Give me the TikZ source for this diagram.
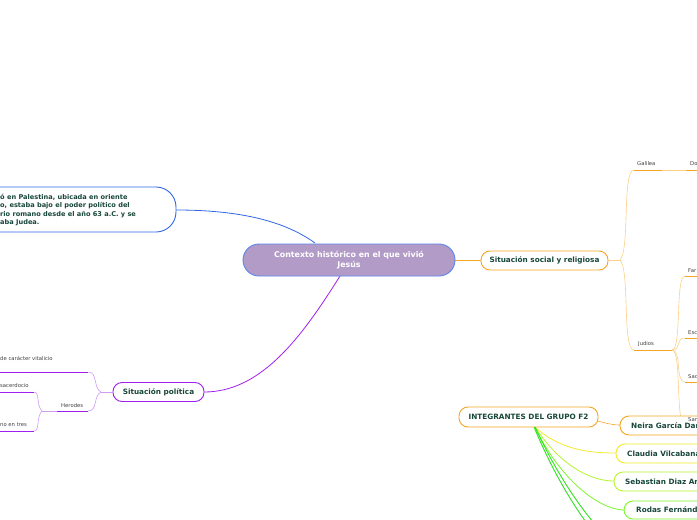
\documentclass[tikz,border=0pt]{standalone}
\usepackage{fontspec}
\setmainfont{DejaVu Sans}
\definecolor{txt}{HTML}{17473A}
\definecolor{blu}{HTML}{2F66E8}
\definecolor{ctr}{HTML}{B39BC8}
\definecolor{org}{HTML}{F5A623}
\definecolor{lorg}{HTML}{FBD08A}
\definecolor{pur}{HTML}{A020F0}
\definecolor{lpur}{HTML}{D09AF5}
\definecolor{yel}{HTML}{F2EA2A}
\definecolor{ygr}{HTML}{B5F52A}
\definecolor{grn}{HTML}{7CF52A}
\definecolor{dgr}{HTML}{30E020}
\begin{document}
\begin{tikzpicture}[x=1pt,y=-1pt,
  box/.style={draw,line width=0.9pt,rounded corners=9pt,fill=white,inner sep=0pt,font=\bfseries\fontsize{7.3}{8}\selectfont,text=txt},
  mem/.style={anchor=west,inner sep=0pt,font=\bfseries\fontsize{7.3}{8}\selectfont,text=txt},
  small/.style={font=\fontsize{5.3}{6}\selectfont,text=black!75,inner sep=0pt,anchor=south west}]
\useasboundingbox (0,0) rectangle (697,520);
\clip (0,0) rectangle (697,520);
% connectors
\coordinate (tl) at (176,210);
\draw[blu,line width=0.8pt] (tl) .. controls (250,210) and (290,225) .. (315,243);
\draw[pur,line width=0.8pt] (340,276) .. controls (300,340) and (260,392) .. (204,392);
\draw[org,line width=0.6pt] (455,260) -- (481,260);
% top-left box
\draw[blu,line width=0.9pt,fill=white,rounded corners=20pt] (-30,187) rectangle (176,232);
\node[anchor=west,align=left,font=\bfseries\fontsize{6.6}{8.6}\selectfont,text=txt,inner sep=0pt] (tlt) at (0,210)
 {ó en Palestina, ubicada en oriente\\o, estaba bajo el poder político del\\rio romano desde el año 63 a.C. y se\\aba Judea.};
% center
\node[draw=blu!80,line width=0.9pt,fill=ctr,rounded corners=16pt,minimum width=212pt,minimum height=32pt,align=center,text=white,font=\bfseries\fontsize{7.9}{9.5}\selectfont] (c) at (349,260) {Contexto histórico en el que vivió\\Jesús};
% social
\node[box,draw=org,minimum width=127pt,minimum height=19pt] (soc) at (544.5,260.5) {Situación social y religiosa};
\draw[lorg,line width=0.6pt] (608,260) -- (620,260);
\draw[lorg,line width=0.6pt] (620,260) .. controls (630,250) and (622,170) .. (634,170);
\draw[lorg,line width=0.6pt] (620,260) .. controls (630,270) and (622,350) .. (634,350);
\draw[org,line width=1pt] (634,170) -- (662,170);
\draw[lorg,line width=1pt] (662,170) -- (686,170);
\draw[org,line width=1pt] (686,170) -- (697,170);
\node[small] (gal) at (637,166) {Galilea};
\node[small] (do) at (690,166) {Do};
\draw[org,line width=1pt] (634,350) -- (672,350);
\node[small] (jud) at (638,347) {Judios};
\foreach \y/\t in {276/Far,338/Esc,382/Sac}{
  \draw[lorg,line width=0.6pt] (672,350) .. controls (682,350) and (675,\y) .. (685,\y);
  \draw[org,line width=1pt] (685,\y) -- (697,\y);
  \node[small] at (688,\y-3) {\t};
}
\draw[lorg,line width=0.6pt] (672,350) .. controls (682,350) and (675,425) .. (685,425);
% integrantes
\node[box,draw=org,minimum width=139pt,minimum height=20pt] (int) at (528.5,417) {INTEGRANTES DEL GRUPO F2};
\draw[org,line width=0.6pt] (598,421) .. controls (605,423) and (612,425) .. (620,425);
\draw[yel,line width=0.8pt] (535,427) .. controls (560,450) and (590,453) .. (616,453);
\draw[ygr,line width=0.8pt] (535,427) .. controls (560,465) and (590,481) .. (614,481);
\draw[grn,line width=0.8pt] (535,427) .. controls (560,480) and (600,510) .. (624,510);
\draw[dgr,line width=0.9pt] (535,427) .. controls (555,470) and (575,500) .. (593,522);
\draw[dgr,line width=0.9pt] (534,427) .. controls (552,470) and (570,500) .. (588,525);
\draw[org,line width=0.9pt,fill=white,rounded corners=9pt] (620,416) rectangle (740,435);
\node[mem] (n1) at (631,425.5) {Neira García Dan};
\node[small] (san) at (688,422) {San};
\draw[yel,line width=0.9pt,fill=white,rounded corners=9pt] (616,444) rectangle (740,463);
\node[mem] (n2) at (627,453.5) {Claudia Vilcabana};
\draw[ygr,line width=0.9pt,fill=white,rounded corners=9pt] (614,472) rectangle (740,491);
\node[mem] (n3) at (625,481.5) {Sebastian Diaz Arr};
\draw[grn,line width=0.9pt,fill=white,rounded corners=9pt] (624,501) rectangle (740,519);
\node[mem] (n4) at (636,510) {Rodas Fernánde};
% politica
\node[box,draw=pur,minimum width=91pt,minimum height=19pt] (pol) at (158.5,392) {Situación política};
\draw[lpur,line width=0.6pt] (113,392) -- (101,392);
\draw[lpur,line width=0.6pt] (101,392) .. controls (93,388) and (98,372) .. (88,372);
\draw[lpur,line width=0.6pt] (101,392) .. controls (93,396) and (98,411) .. (88,411);
\draw[pur,line width=1pt] (0,372) -- (88,372);
\node[small] (v) at (0,361) {de carácter vitalicio};
\draw[pur,line width=1pt] (57,411) -- (88,411);
\draw[lpur,line width=1pt] (42,411) -- (57,411);
\node[small] (h) at (61,408) {Herodes};
\draw[lpur,line width=0.6pt] (42,411) .. controls (36,405) and (40,392) .. (34,392);
\draw[lpur,line width=0.6pt] (42,411) .. controls (36,417) and (40,431) .. (34,431);
\draw[pur,line width=1pt] (0,392) -- (34,392);
\draw[pur,line width=1pt] (0,431) -- (34,431);
\node[small] (s) at (0,388) {sacerdocio};
\node[small] (t) at (0,427) {no en tres};
\end{tikzpicture}
\end{document}
